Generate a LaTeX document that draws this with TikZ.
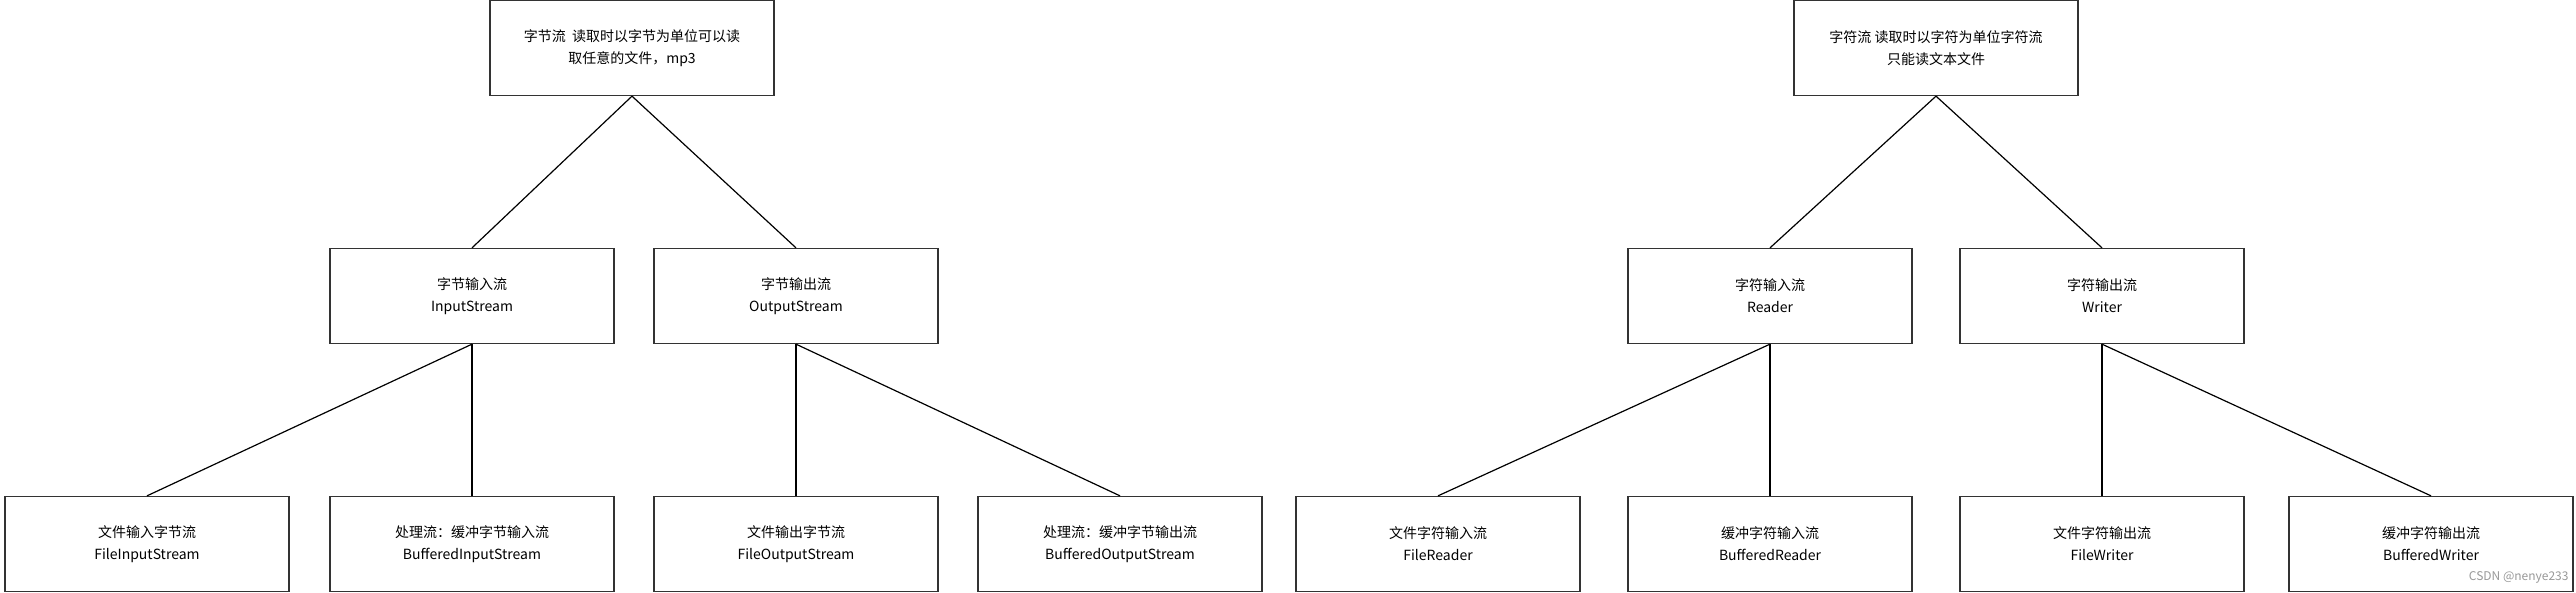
\documentclass[tikz,border=0pt]{standalone}
\usepackage{fontspec}
\setmainfont{Noto Sans CJK SC}
\begin{document}
\begin{tikzpicture}[x=1pt,y=-1pt,
  box/.style={draw=black!80,line width=1.3pt,minimum width=284pt,minimum height=95pt,align=center,font=\fontsize{14}{22}\selectfont,inner sep=0pt},
  conn/.style={line width=1.2pt}]
\useasboundingbox (0,0) rectangle (2576,592);
\fill[white] (0,0) rectangle (2576,592);
% left tree
\node[box] (t1) at (632,48) {字节流 \ 读取时以字节为单位可以读\\取任意的文件，mp3};
\node[box] (m1) at (472,296) {字节输入流\\InputStream};
\node[box] (m2) at (796,296) {字节输出流\\OutputStream};
\node[box] (b1) at (147,544) {文件输入字节流\\FileInputStream};
\node[box] (b2) at (472,544) {处理流：缓冲字节输入流\\BufferedInputStream};
\node[box] (b3) at (796,544) {文件输出字节流\\FileOutputStream};
\node[box] (b4) at (1120,544) {处理流：缓冲字节输出流\\BufferedOutputStream};
% right tree
\node[box] (t2) at (1936,48) {字符流 读取时以字符为单位字符流\\只能读文本文件};
\node[box] (m3) at (1770,296) {字符输入流\\Reader};
\node[box] (m4) at (2102,296) {字符输出流\\Writer};
\node[box] (b5) at (1438,544) {文件字符输入流\\FileReader};
\node[box] (b6) at (1770,544) {缓冲字符输入流\\BufferedReader};
\node[box] (b7) at (2102,544) {文件字符输出流\\FileWriter};
\node[box] (b8) at (2431,544) {缓冲字符输出流\\BufferedWriter};
\foreach \a/\b in {t1/m1,t1/m2,m1/b1,m1/b2,m2/b3,m2/b4,t2/m3,t2/m4,m3/b5,m3/b6,m4/b7,m4/b8}
  \draw[conn] (\a.south) -- (\b.north);
\node[text=black!40,font=\fontsize{12}{12}\selectfont,anchor=east] (wm) at (2572,577) {CSDN @nenye233};
\end{tikzpicture}
\end{document}
